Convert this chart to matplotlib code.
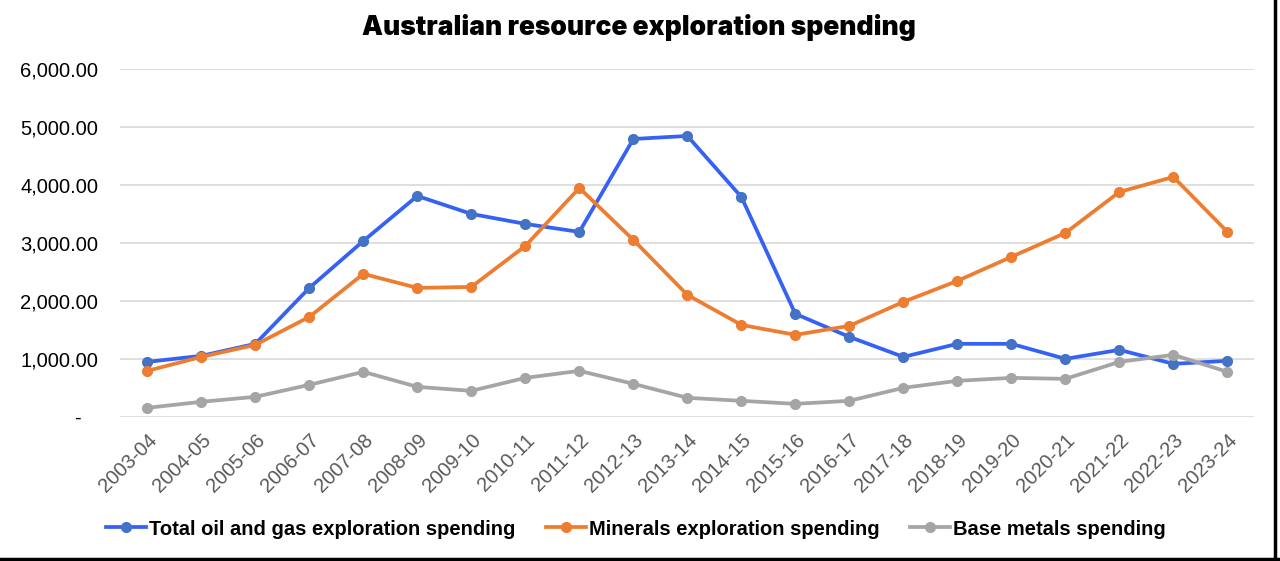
import matplotlib.pyplot as plt
from matplotlib.lines import Line2D
from matplotlib.ticker import FuncFormatter

years = ['2003-04', '2004-05', '2005-06', '2006-07', '2007-08', '2008-09', '2009-10',
         '2010-11', '2011-12', '2012-13', '2013-14', '2014-15', '2015-16', '2016-17',
         '2017-18', '2018-19', '2019-20', '2020-21', '2021-22', '2022-23', '2023-24']
oil_gas = [948, 1052, 1259, 2224, 3034, 3810, 3500, 3328, 3190, 4793, 4845,
           3793, 1776, 1379, 1034, 1259, 1259, 1000, 1155, 914, 966]
minerals = [793, 1034, 1241, 1724, 2466, 2224, 2241, 2948, 3948, 3052, 2103,
            1586, 1414, 1569, 1983, 2345, 2759, 3172, 3879, 4138, 3190]
base_metals = [155, 259, 345, 552, 776, 517, 448, 672, 793, 569, 328,
               276, 224, 276, 500, 621, 672, 655, 948, 1069, 776]

fig = plt.figure(figsize=(12.8, 5.61), dpi=100)
ax = fig.add_axes([0.094, 0.257, 0.886, 0.620])

x = range(len(years))
ax.plot(x, oil_gas, color='#3562F5', lw=2.7, marker='o', ms=7,
        mfc='#4472C4', mec='#4472C4', label='Total oil and gas exploration spending', zorder=3)
ax.plot(x, minerals, color='#ED7D31', lw=2.7, marker='o', ms=7,
        label='Minerals exploration spending', zorder=3)
ax.plot(x, base_metals, color='#A5A5A5', lw=2.7, marker='o', ms=7,
        label='Base metals spending', zorder=3)

ax.set_xlim(-0.5, len(years) - 0.5)
ax.set_ylim(0, 6000)
ax.set_yticks(range(0, 6001, 1000))
ax.yaxis.set_major_formatter(FuncFormatter(lambda v, p: '-   ' if v == 0 else f'{v:,.2f}'))
ax.set_xticks(list(x))
ax.set_xticklabels(years, rotation=45, ha='right', rotation_mode='anchor')
ax.grid(axis='y', color='#D9D9D9', lw=1.2)
ax.set_axisbelow(True)
for s in ax.spines.values():
    s.set_visible(False)
ax.tick_params(axis='y', length=0, pad=16, labelsize=14.5, labelcolor='#000000')
ax.tick_params(axis='x', length=0, pad=10, labelsize=14.5, labelcolor='#595959')
for t in ax.get_yticklabels() + ax.get_xticklabels():
    t.set_family('Liberation Sans')

fig.suptitle('Australian resource exploration spending', x=0.499, y=0.975,
             fontsize=19, fontweight=900, family='Inter')

leg = fig.legend(loc='center', bbox_to_anchor=(0.497, 0.057), ncol=3, frameon=False,
                 handlelength=2.0, handletextpad=0.15, columnspacing=1.5,
                 prop={'family': 'Liberation Sans', 'weight': 'bold', 'size': 14.5})

fig.add_artist(Line2D([0.996, 0.996], [0.0, 1.0], color='black', lw=2.5, transform=fig.transFigure))
fig.add_artist(Line2D([0.0, 1.0], [0.004, 0.004], color='black', lw=2.5, transform=fig.transFigure))

fig.savefig('out.png', dpi=100)
